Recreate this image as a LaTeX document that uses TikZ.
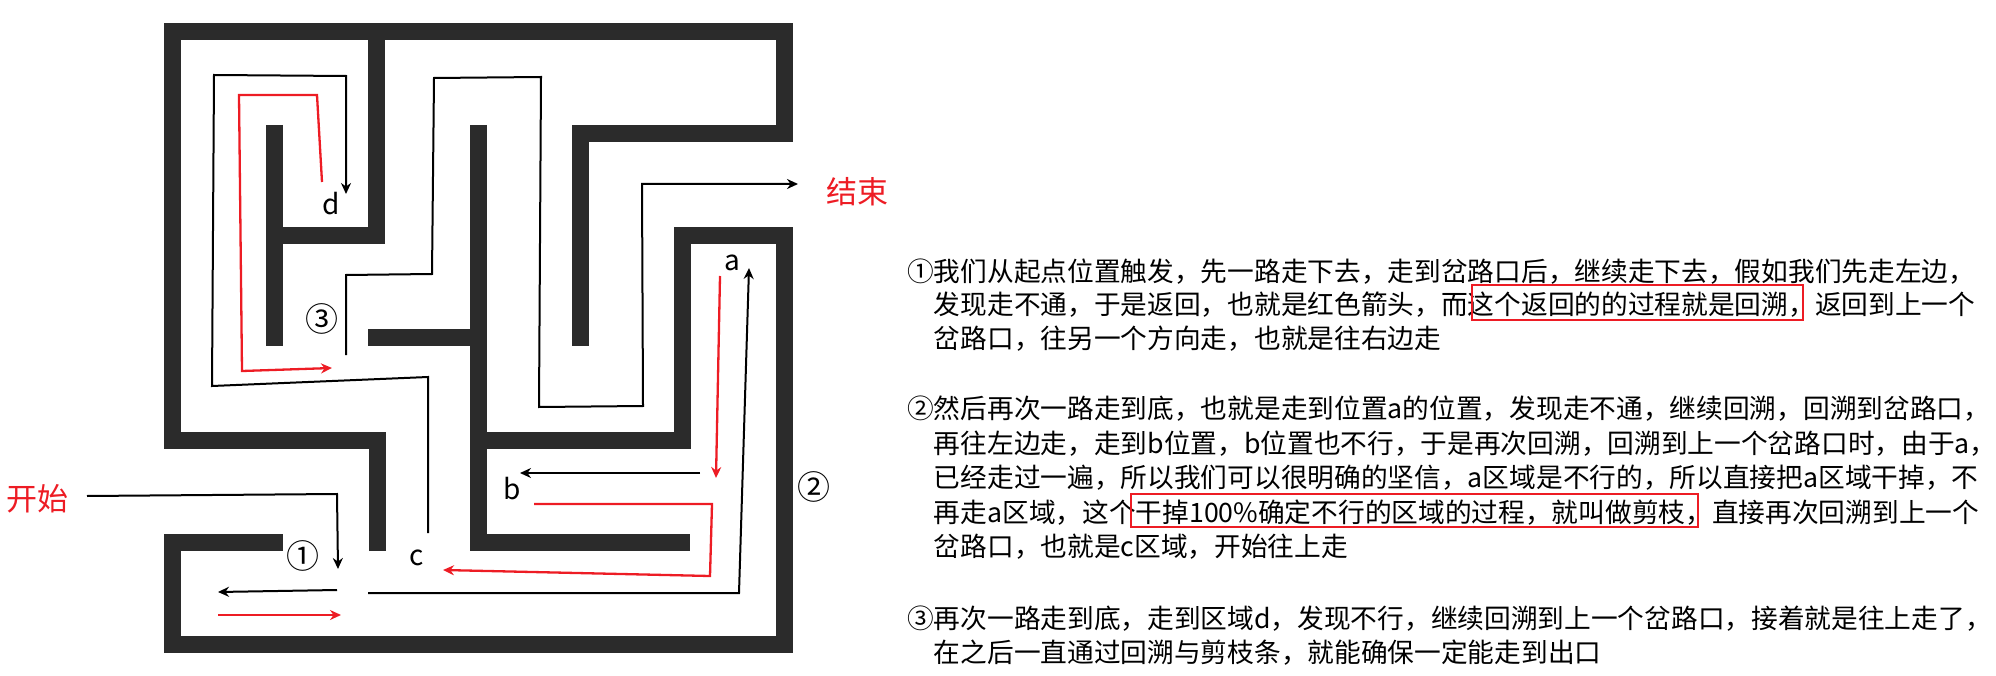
\documentclass[tikz,border=0pt]{standalone}
\usepackage{fontspec}
\setmainfont{Noto Sans CJK SC}
\usetikzlibrary{arrows.meta}
\definecolor{wallgray}{HTML}{2B2B2B}
\definecolor{backred}{HTML}{ED1C24}
\tikzset{
  wall/.style={draw=wallgray, line width=17pt},
  walk/.style={draw=black, line width=2pt, line join=miter},
  walkto/.style={walk, -{Stealth[length=11pt,width=10pt]}},
  back/.style={draw=backred, line width=2.3pt},
  backto/.style={back, -{Stealth[length=11pt,width=10pt]}},
  spotlabel/.style={inner sep=0pt, font=\fontsize{28}{28}\selectfont},
  circlelabel/.style={inner sep=0pt, font=\fontsize{33}{33}\selectfont},
  endword/.style={inner sep=0pt, text=backred, font=\fontsize{31}{31}\selectfont},
  note/.style={inner sep=0pt, anchor=north west, align=left},
  notebox/.style={draw=backred, line width=2pt}
}
\begin{document}
\begin{tikzpicture}[x=1pt,y=-1pt]
\useasboundingbox (0,0) rectangle (1996,676);

% Walls
\draw[wall] (377,551) -- (377,440) -- (172.5,440) -- (172.5,32) -- (784,32) -- (784,134) -- (580,134) -- (580,346);
\draw[wall] (283,542.5) -- (172.5,542.5) -- (172.5,644) -- (784,644) -- (784,236) -- (682,236) -- (682,440) -- (478,440);
\draw[wall] (478,125) -- (478,542.5) -- (690,542.5);
\draw[wall] (368,337) -- (478,337);
\draw[wall] (274.5,125) -- (274.5,346);
\draw[wall] (274.5,236) -- (376.5,236) -- (376.5,32);

% Black path
\draw[walkto] (87,496) -- (337,494) -- (338,569);
\draw[walkto] (337,590) -- (218,592);
\draw[walkto] (368,593) -- (739,593) -- (749,268);
\draw[walkto] (700,473) -- (520,473);
\draw[walkto] (428,533) -- (428,377) -- (212,386) -- (214,75) -- (346,76) -- (346,194);
\draw[walkto] (346,355) -- (346,275) -- (432,274) -- (434,78) -- (541,77) -- (539,407) -- (643,406) -- (642,184) -- (798,184);

% Red path
\draw[backto] (218,615) -- (341,615);
\draw[backto] (720,276) -- (716,478);
\draw[backto] (534,504) -- (712,504) -- (710,576) -- (443,570);
\draw[backto] (322,182) -- (317,95) -- (239,95) -- (242,371) -- (332,368);

% Labels in the maze
\node[endword] (startword) at (37,499) {开始};
\node[endword] (finishword) at (857,192) {结束};
\node[spotlabel] (spotd) at (331,204) {d};
\node[spotlabel] (spota) at (732,263) {a};
\node[spotlabel] (spotb) at (512,489) {b};
\node[spotlabel] (spotc) at (417,558) {c};
\node[circlelabel] (circleone) at (303,556) {①};
\node[circlelabel] (circletwo) at (814,487) {②};
\node[circlelabel] (circlethree) at (322,319) {③};

% Notes
\node[note, font=\fontsize{26.7}{33.5}\selectfont] (noteone) at (907,258.5) {①我们从起点位置触发，先一路走下去，走到岔路口后，继续走下去，假如我们先走左边，\\
\hspace*{1em}发现走不通，于是返回，也就是红色箭头，而这个返回的的过程就是回溯，返回到上一个\\
\hspace*{1em}岔路口，往另一个方向走，也就是往右边走};
\node[note, font=\fontsize{26.7}{34.4}\selectfont] (notetwo) at (907,396) {②然后再次一路走到底，也就是走到位置a的位置，发现走不通，继续回溯，回溯到岔路口，\\
\hspace*{1em}再往左边走，走到b位置，b位置也不行，于是再次回溯，回溯到上一个岔路口时，由于a，\\
\hspace*{1em}已经走过一遍，所以我们可以很明确的坚信，a区域是不行的，所以直接把a区域干掉，不\\
\hspace*{1em}再走a区域，这个干掉100\%确定不行的区域的过程，就叫做剪枝，直接再次回溯到上一个\\
\hspace*{1em}岔路口，也就是c区域，开始往上走};
\node[note, font=\fontsize{26.7}{33.5}\selectfont] (notethree) at (907,606) {③再次一路走到底，走到区域d，发现不行，继续回溯到上一个岔路口，接着就是往上走了，\\
\hspace*{1em}在之后一直通过回溯与剪枝条，就能确保一定能走到出口};

% Red boxes
\draw[notebox] (1472,285) rectangle (1803,320);
\draw[notebox] (1131,494) rectangle (1698,527);

\end{tikzpicture}
\end{document}
